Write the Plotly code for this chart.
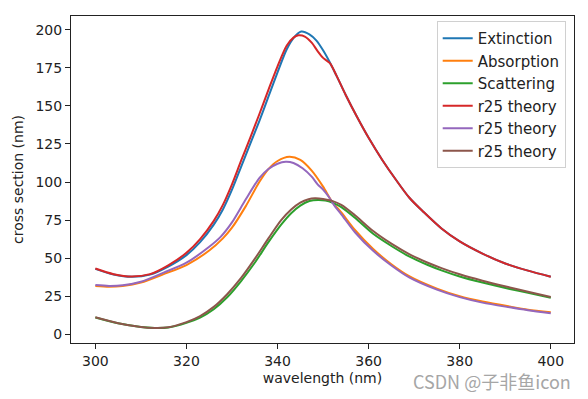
import plotly.graph_objects as go

# ---- data ----
wl_ext = [300, 304, 308, 312, 316, 320, 323, 326, 328, 330, 332, 334, 336, 338, 340, 342, 343.5, 345.2, 347, 348.5, 350, 351.5, 353, 355, 357.5, 360, 363, 366, 369, 372, 376, 380, 385, 390, 395, 400]
extinction = [43, 39.3, 37.8, 39.2, 44.5, 52, 60.5, 72, 82, 95, 110, 125, 140, 156, 172, 187, 194.5, 198.8, 197, 193, 186.5, 178.5, 169.5, 157, 142.5, 129, 114.5, 101.5, 89.5, 80.5, 69.5, 61, 53, 46.5, 41.8, 37.8]

wl_red = [300, 304, 308, 312, 316, 320, 323, 326, 328, 330, 332, 334, 336, 338, 340, 342, 343.5, 344.6, 346, 347.5, 348.8, 350, 351.5, 353, 355, 357.5, 360, 363, 366, 369, 372, 376, 380, 385, 390, 395, 400]
r25_ext = [43.2, 39.5, 37.9, 39.5, 45.3, 53.5, 62.5, 74.5, 85, 98.5, 114, 129, 144.5, 160.5, 176, 189.5, 194.8, 196.3, 195.5, 191.5, 186, 181.5, 178, 169.5, 157, 142.5, 129, 114.5, 101.5, 89.5, 80.5, 69.5, 61, 53, 46.5, 41.8, 37.8]

wl_abs = [300, 303, 306, 310, 315, 320, 325, 328, 330, 333, 336, 338, 340, 342.6, 345, 347.5, 350, 352, 354, 357, 361, 365, 369, 375, 380, 385, 391, 395, 400]
absorption = [31.8, 31.3, 31.8, 34, 39.5, 45.5, 55, 63, 70, 84, 100, 108.5, 113.8, 116.6, 114.5, 107.5, 97, 87, 80, 68.5, 56, 46, 38, 30, 25, 21.5, 18.2, 16.2, 14.5]

wl_pur = [300, 303, 306, 310, 315, 320, 325, 327.5, 330, 333, 336, 338, 340, 341.8, 343.5, 345.5, 347.5, 348.8, 350, 351.2, 352.6, 354, 357, 361, 365, 369, 375, 380, 385, 391, 395, 400]
r25_abs = [32.3, 31.8, 32.2, 34.5, 40.5, 47, 57.5, 64, 73.5, 88.5, 102.5, 108.5, 112, 113.3, 112.5, 109, 103.5, 98.5, 95, 90.5, 84, 78.8, 67, 54.8, 45.2, 37.2, 29.3, 24.4, 20.8, 17.7, 15.8, 13.8]

wl_sca = [300, 305, 310, 313, 316, 320, 323, 326, 329, 332, 335, 338, 340.8, 343, 345, 347, 348.9, 350.5, 352, 354, 357, 361, 365, 369, 373, 376, 380, 385, 391, 395, 400]
scattering = [11, 7.2, 4.8, 4.2, 4.5, 7.5, 11, 16.5, 24.5, 35, 47, 60.5, 72, 79.5, 84.5, 87.5, 88.2, 87.8, 86.5, 83.5, 76.5, 66, 58, 51, 45.5, 42, 38, 34, 29.8, 27.2, 24]

wl_brn = [300, 305, 310, 313, 316, 320, 323, 326, 329, 332, 335, 338, 340.8, 343, 345, 346.8, 348.2, 350, 352, 354, 357, 361, 365, 369, 373, 376, 380, 385, 391, 395, 400]
r25_sca = [11.2, 7.3, 4.8, 4.2, 4.6, 8, 12, 18, 26.5, 37, 49.5, 63, 75, 82, 86.5, 88.7, 89.3, 88.9, 87.6, 85, 78.2, 67.8, 59.5, 52.5, 47, 43.5, 39.4, 35.2, 30.8, 28, 24.5]

x_ticks = [300, 320, 340, 360, 380, 400]
y_ticks = [0, 25, 50, 75, 100, 125, 150, 175, 200]

series = [
    ("Extinction", wl_ext, extinction, "#1f77b4"),
    ("Absorption", wl_abs, absorption, "#ff7f0e"),
    ("Scattering", wl_sca, scattering, "#2ca02c"),
    ("r25 theory", wl_red, r25_ext, "#d62728"),
    ("r25 theory", wl_pur, r25_abs, "#9467bd"),
    ("r25 theory", wl_brn, r25_sca, "#8c564b"),
]

fig = go.Figure()
for name, xs, ys, col in series:
    fig.add_trace(go.Scatter(
        x=xs, y=ys, mode="lines", name=name,
        line=dict(color=col, width=2, shape="spline", smoothing=0.8),
    ))

font_family = "DejaVu Sans, sans-serif"
axis_common = dict(
    showgrid=False, zeroline=False, showline=True, mirror=True,
    linecolor="#222222", linewidth=1, ticks="outside", ticklen=5,
    tickcolor="#222222", tickwidth=1,
    tickfont=dict(family=font_family, size=14, color="#222222"),
)

# the page body has an 8px default margin, so the figure is 8px smaller
fig.update_layout(
    width=580, height=391,
    margin=dict(l=63, r=14, t=8, b=56),
    paper_bgcolor="white", plot_bgcolor="white",
    font=dict(family=font_family, color="#222222"),
    xaxis=dict(range=[294.65, 405.1], tickvals=x_ticks,
               title=dict(text="wavelength (nm)", font=dict(size=14), standoff=5),
               **axis_common),
    yaxis=dict(range=[-5.7, 209], tickvals=y_ticks,
               title=dict(text="cross section (nm)", font=dict(size=14), standoff=8),
               **axis_common),
    legend=dict(
        x=0.9835, y=0.985, xanchor="right", yanchor="top",
        bgcolor="rgba(255,255,255,0.85)", bordercolor="#d0d0d0", borderwidth=1,
        font=dict(family=font_family, size=15, color="#222222"),
        tracegroupgap=0, itemwidth=30,
    ),
    showlegend=True,
)

fig.add_annotation(
    text="CSDN @子非鱼icon", xref="paper", yref="paper",
    x=0.999, y=-0.116, xanchor="right", yanchor="middle", showarrow=False,
    font=dict(family="Noto Sans CJK SC, sans-serif", size=18, color="#a6a6a6"),
)

fig.write_html("out.html")
